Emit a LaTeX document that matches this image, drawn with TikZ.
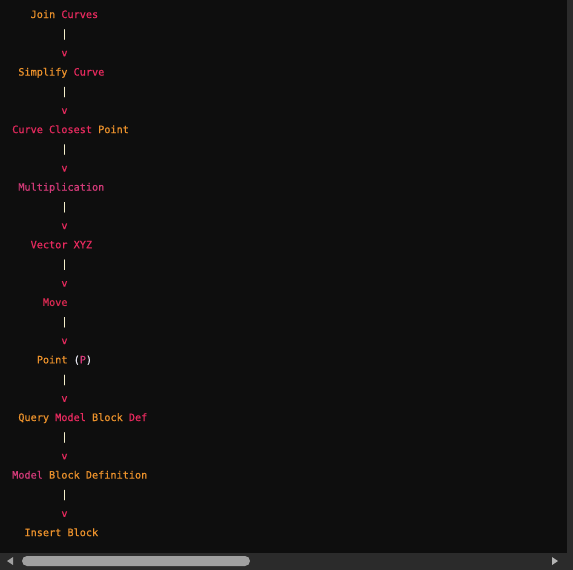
\documentclass[tikz,border=0pt]{standalone}
\usepackage{fontspec}
\setmonofont[FakeBold=0.6,AutoFakeBold=0.6]{DejaVu Sans Mono}
\definecolor{codebg}{HTML}{0E0E0E}
\definecolor{barbg}{HTML}{2B2B2B}
\definecolor{thumb}{HTML}{A0A0A0}
\definecolor{corange}{HTML}{EC922C}
\definecolor{cpink}{HTML}{E62A5E}
\definecolor{cmagenta}{HTML}{D23A78}
\definecolor{cred}{HTML}{DA2A52}
\definecolor{cpipe}{HTML}{F4EFCB}
\definecolor{cparen}{HTML}{E6E6F0}
\tikzset{
  code/.style={font=\ttfamily\fontsize{10.2}{12}\selectfont, anchor=base west, inner sep=0pt},
  pipe/.style={code, text=cpipe},
  tip/.style={code, text=cpink}
}
\begin{document}
\begin{tikzpicture}[x=1pt,y=-1pt]
      \fill[codebg] (0,0) rectangle (573,570);
      \useasboundingbox (0,0) rectangle (573,570);

      \node[code] (join) at (30.45,18) {\color{corange}Join \color{cpink}Curves};
      \node[pipe] (pipe1) at (61.2,37.2) {|};
      \node[tip] (tip1) at (61.2,56.4) {v};
      \node[code] (simplify) at (18.15,75.6) {\color{corange}Simplify \color{cpink}Curve};
      \node[pipe] (pipe2) at (61.2,94.8) {|};
      \node[tip] (tip2) at (61.2,113.9) {v};
      \node[code] (closest) at (12,133.1) {\color{cpink}Curve Closest \color{corange}Point};
      \node[pipe] (pipe3) at (61.2,152.3) {|};
      \node[tip] (tip3) at (61.2,171.5) {v};
      \node[code] (mult) at (18.15,190.7) {\color{cmagenta}Multiplication};
      \node[pipe] (pipe4) at (61.2,209.9) {|};
      \node[tip] (tip4) at (61.2,229.1) {v};
      \node[code] (vector) at (30.45,248.3) {\color{cpink}Vector XYZ};
      \node[pipe] (pipe5) at (61.2,267.5) {|};
      \node[tip] (tip5) at (61.2,286.7) {v};
      \node[code] (move) at (42.75,305.9) {\color{cred}Move};
      \node[pipe] (pipe6) at (61.2,325.0) {|};
      \node[tip] (tip6) at (61.2,344.2) {v};
      \node[code] (point) at (36.6,363.4) {\color{corange}Point \color{cparen}(\color{cmagenta}P\color{cparen})};
      \node[pipe] (pipe7) at (61.2,382.6) {|};
      \node[tip] (tip7) at (61.2,401.8) {v};
      \node[code] (query) at (18.15,421.0) {\color{corange}Query \color{cpink}Model \color{corange}Block \color{cpink}Def};
      \node[pipe] (pipe8) at (61.2,440.2) {|};
      \node[tip] (tip8) at (61.2,459.4) {v};
      \node[code] (blockdef) at (12,478.6) {\color{cmagenta}Model \color{corange}Block Definition};
      \node[pipe] (pipe9) at (61.2,497.8) {|};
      \node[tip] (tip9) at (61.2,516.9) {v};
      \node[code] (insert) at (24.3,536.1) {\color{corange}Insert Block};

      % scrollbars
      \fill[barbg] (567,0) rectangle (573,570);
      \fill[barbg] (0,553) rectangle (573,570);
      \fill[thumb,rounded corners=5pt] (22,556) rectangle (250,566);
      \fill[thumb] (7,561)--(13,557)--(13,565)--cycle;
      \fill[thumb!80!white] (552,557)--(558,561)--(552,565)--cycle;
\end{tikzpicture}
\end{document}
